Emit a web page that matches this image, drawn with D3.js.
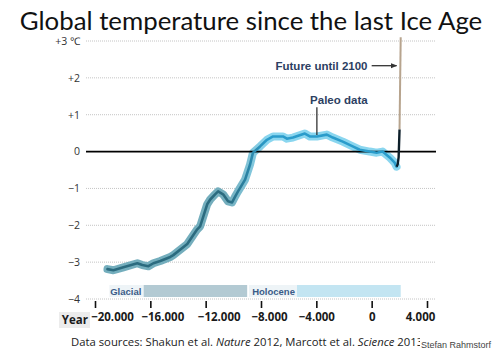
<!DOCTYPE html>
<html lang="en">
<head>
    <meta charset="UTF-8">
    <title>Global temperature since the last Ice Age</title>
    <style type="text/css">
        html, body { padding:0; margin:0; background:#fff; }
        svg { display:block; }
    </style>
</head>
<body>
<script src="https://d3js.org/d3.v7.min.js"></script>
<script>
    // years before/after present (CE), temperature anomaly in deg C
    var paleoYears = [-19100, -18670, -17950, -16940, -16580, -16140, -15780, -15280, -14560, -14340,
                      -13330, -12610, -12400, -11890, -11670, -11320, -11100, -10740, -10380, -10090,
                      -9870, -9660, -9150, -8790, -8580, -8070, -7570, -7130, -6410, -6130,
                      -5690, -4830, -4470, -3960, -3240, -2810, -2090, -1370, -860, -140,
                      360, 790, 1300, 1660, 1800];
    var paleoTemps = [-3.19, -3.22, -3.14, -3.03, -3.08, -3.11, -3.03, -2.97, -2.86, -2.81,
                      -2.51, -2.11, -2.03, -1.43, -1.30, -1.16, -1.08, -1.16, -1.35, -1.38,
                      -1.22, -1.08, -0.76, -0.35, -0.03, 0.14, 0.32, 0.41, 0.41, 0.35,
                      0.38, 0.49, 0.41, 0.41, 0.46, 0.38, 0.27, 0.14, 0.05, 0.00,
                      -0.03, 0.00, -0.16, -0.30, -0.41];
    var instrYears = [1800, 1880, 1950, 2015];
    var instrTemps = [-0.41, -0.35, -0.15, 0.6];
    var futureYears = [2015, 2100];
    var futureTemps = [0.6, 3.1];

    var yTicks = [3, 2, 1, 0, -1, -2, -3, -4];
    var yTickLabels = ['+3 \u2103', '+2', '+1', '0', '\u22121', '\u22122', '\u22123', '\u22124'];
    var xTicks = [-20000, -16000, -12000, -8000, -4000, 0, 4000];
    var xTickLabels = ['\u221220.000', '\u221216.000', '\u221212.000', '\u22128.000', '\u22124.000', '0', '4.000'];
    var xLabelShift = [17, 12, 13, 8, 0, 0, -7];

    var periods = ['Glacial', 'Holocene'];
    var periodStart = [-16500, -5400];
    var periodEnd = [-9000, 2100];
    var periodColors = ['#b3cad3', '#c3e5f2'];

    var width = 500,
        height = 351;

    var svg = d3.select('body').append('svg')
                .attr('width', width)
                .attr('height', height);

    var x = d3.scaleLinear().domain([-20000, 4000]).range([95, 427]),
        y = d3.scaleLinear().domain([-4, 3]).range([299, 41]);

    var gridX1 = x(-20650), gridX2 = x(4650);

    // title
    svg.append('text')
       .attr('x', 251)
       .attr('y', 30)
       .attr('text-anchor', 'middle')
       .attr('font-family', 'Lato, "Open Sans", sans-serif')
       .attr('font-size', 25.8)
       .attr('fill', '#111')
       .text('Global temperature since the last Ice Age');

    // grid
    svg.selectAll('line.grid')
       .data(yTicks.filter(function(d) { return d !== 0; }))
       .enter()
       .append('line')
       .attr('class', 'grid')
       .attr('x1', gridX1)
       .attr('x2', gridX2)
       .attr('y1', function(d) { return y(d); })
       .attr('y2', function(d) { return y(d); })
       .attr('stroke', '#c4c4c4')
       .attr('stroke-width', 1)
       .attr('stroke-dasharray', '1,1');

    // y labels
    var axisY = d3.axisLeft(y).tickValues(yTicks).tickSize(0).tickPadding(6)
                  .tickFormat(function(d, i) { return yTickLabels[i]; });
    var gy = svg.append('g')
       .attr('transform', 'translate(' + gridX1 + ',0)')
       .call(axisY);
    gy.select('.domain').remove();
    gy.selectAll('text')
      .attr('font-family', '"Open Sans", sans-serif')
      .attr('font-size', 10.5)
      .attr('fill', '#333');

    // period bands
    svg.selectAll('rect.period')
       .data(periods)
       .enter()
       .append('rect')
       .attr('class', 'period')
       .attr('x', function(d, i) { return x(periodStart[i]); })
       .attr('width', function(d, i) { return x(periodEnd[i]) - x(periodStart[i]); })
       .attr('y', 285)
       .attr('height', 12)
       .attr('fill', function(d, i) { return periodColors[i]; });

    svg.selectAll('rect.periodLabelBg')
       .data(periods)
       .enter()
       .append('rect')
       .attr('x', function(d, i) { return x(periodStart[i]) - (i === 0 ? 34 : 48); })
       .attr('width', function(d, i) { return i === 0 ? 34 : 48; })
       .attr('y', 285)
       .attr('height', 12)
       .attr('fill', '#eef4f7');

    svg.selectAll('text.period')
       .data(periods)
       .enter()
       .append('text')
       .attr('class', 'period')
       .attr('x', function(d, i) { return x(periodStart[i]) - 2; })
       .attr('y', 295)
       .attr('text-anchor', 'end')
       .attr('font-family', '"Liberation Sans", Arial, sans-serif')
       .attr('font-weight', 'bold')
       .attr('font-size', 9.5)
       .attr('fill', '#3b5c88')
       .text(function(d) { return d; });

    // x axis
    var axisX = d3.axisBottom(x).tickValues(xTicks).tickSize(7).tickPadding(5)
                  .tickFormat(function(d, i) { return xTickLabels[i]; });
    var gx = svg.append('g')
       .attr('transform', 'translate(0,301)')
       .call(axisX);
    gx.select('.domain').remove();
    gx.selectAll('.tick line').attr('stroke', '#111').attr('stroke-width', 1.6);
    gx.selectAll('text')
      .attr('dx', function(d, i) { return xLabelShift[i]; })
      .attr('font-family', '"Open Sans", sans-serif')
      .attr('font-weight', 'bold')
      .attr('font-size', 11.5)
      .attr('fill', '#1a1a1a');

    svg.append('rect')
       .attr('x', 59).attr('y', 312).attr('width', 31).attr('height', 16)
       .attr('fill', '#ececec');
    svg.append('text')
       .attr('x', 88).attr('y', 324)
       .attr('text-anchor', 'end')
       .attr('font-family', '"Open Sans", sans-serif')
       .attr('font-weight', 'bold')
       .attr('font-size', 11.5)
       .attr('fill', '#1a1a1a')
       .text('Year');

    // gradient for paleo line
    var defs = svg.append('defs');
    var gHalo = defs.append('linearGradient')
       .attr('id', 'halo').attr('gradientUnits', 'userSpaceOnUse')
       .attr('x1', x(-10500)).attr('x2', x(-7500)).attr('y1', 0).attr('y2', 0);
    gHalo.append('stop').attr('offset', 0).attr('stop-color', '#74aebd');
    gHalo.append('stop').attr('offset', 1).attr('stop-color', '#8ad6ef');
    var gCore = defs.append('linearGradient')
       .attr('id', 'core').attr('gradientUnits', 'userSpaceOnUse')
       .attr('x1', x(-10500)).attr('x2', x(-7500)).attr('y1', 0).attr('y2', 0);
    gCore.append('stop').attr('offset', 0).attr('stop-color', '#2b6b7f');
    gCore.append('stop').attr('offset', 1).attr('stop-color', '#2a9ccb');
    defs.append('marker')
       .attr('id', 'arrow').attr('viewBox', '0 0 10 10')
       .attr('refX', 9).attr('refY', 5)
       .attr('markerWidth', 5).attr('markerHeight', 5)
       .attr('orient', 'auto')
       .append('path').attr('d', 'M0,1L10,5L0,9Z').attr('fill', '#333');

    var line = d3.line()
                 .x(function(d) { return x(d[0]); })
                 .y(function(d) { return y(d[1]); })
                 .curve(d3.curveLinear);

    var paleo = d3.zip(paleoYears, paleoTemps);

    svg.append('path')
       .attr('d', line(paleo))
       .attr('fill', 'none')
       .attr('stroke', 'url(#halo)')
       .attr('stroke-width', 8)
       .attr('stroke-linejoin', 'round')
       .attr('stroke-linecap', 'round');

    // zero line
    svg.append('line')
       .attr('x1', gridX1).attr('x2', gridX2)
       .attr('y1', y(0)).attr('y2', y(0))
       .attr('stroke', '#000')
       .attr('stroke-width', 1.8);

    svg.append('path')
       .attr('d', line(paleo))
       .attr('fill', 'none')
       .attr('stroke', 'url(#core)')
       .attr('stroke-width', 2.6)
       .attr('stroke-linejoin', 'round')
       .attr('stroke-linecap', 'round');

    svg.append('path')
       .attr('d', line(d3.zip(futureYears, futureTemps)))
       .attr('fill', 'none')
       .attr('stroke', '#b7a48e')
       .attr('stroke-width', 2);

    svg.append('path')
       .attr('d', line(d3.zip(instrYears, instrTemps)))
       .attr('fill', 'none')
       .attr('stroke', '#0d1f2a')
       .attr('stroke-width', 2.4);

    // annotations
    var labelFont = '"Liberation Sans", Arial, sans-serif';

    svg.append('line')
       .attr('x1', x(-3960)).attr('x2', x(-3960))
       .attr('y1', y(1.2)).attr('y2', y(0.45))
       .attr('stroke', '#222').attr('stroke-width', 1.2);

    svg.append('rect')
       .attr('x', x(-4800)).attr('y', y(1.65)).attr('width', 62).attr('height', 16)
       .attr('fill', '#fff');
    svg.append('text')
       .attr('x', x(-3960) + 22).attr('y', y(1.3))
       .attr('text-anchor', 'middle')
       .attr('font-family', labelFont)
       .attr('font-weight', 'bold')
       .attr('font-size', 11.5)
       .attr('fill', '#2c4062')
       .text('Paleo data');

    svg.append('rect')
       .attr('x', x(-7300)).attr('y', y(2.55)).attr('width', 100).attr('height', 16)
       .attr('fill', '#fff');
    svg.append('text')
       .attr('x', x(-300)).attr('y', y(2.2))
       .attr('text-anchor', 'end')
       .attr('font-family', labelFont)
       .attr('font-weight', 'bold')
       .attr('font-size', 11.5)
       .attr('fill', '#2c4062')
       .text('Future until 2100');
    svg.append('line')
       .attr('x1', x(0)).attr('x2', x(1800))
       .attr('y1', y(2.33)).attr('y2', y(2.33))
       .attr('stroke', '#333').attr('stroke-width', 1.3)
       .attr('marker-end', 'url(#arrow)');

    // footer
    var foot = svg.append('text')
       .attr('x', 71).attr('y', 346)
       .attr('font-family', '"Open Sans", sans-serif')
       .attr('font-size', 11.3)
       .attr('fill', '#222');
    foot.append('tspan').text('Data sources: Shakun et al. ');
    foot.append('tspan').attr('font-style', 'italic').text('Nature');
    foot.append('tspan').text('  2012, Marcott et al. ');
    foot.append('tspan').attr('font-style', 'italic').text('Science');
    foot.append('tspan').text(' 2013');

    svg.append('rect')
       .attr('x', 420).attr('y', 338).attr('width', 80).attr('height', 13)
       .attr('fill', '#fff');
    svg.append('text')
       .attr('x', 421).attr('y', 348)
       .attr('font-family', '"Liberation Sans", Arial, sans-serif')
       .attr('font-size', 9)
       .attr('fill', '#444')
       .text('Stefan Rahmstorf');
</script>
</body>
</html>
